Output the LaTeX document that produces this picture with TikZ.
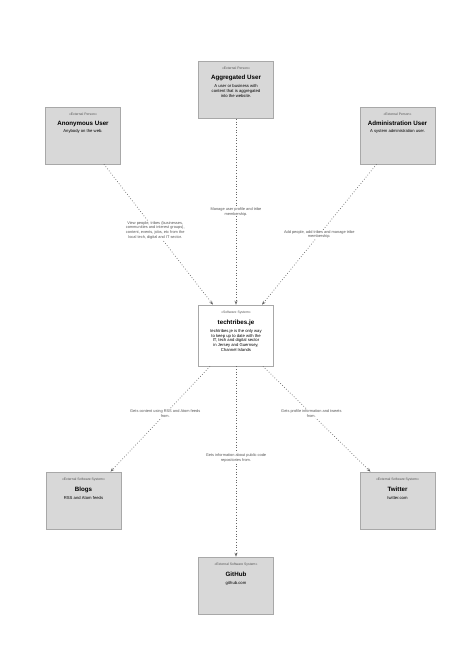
\documentclass[tikz,border=0pt]{standalone}
\usepackage{fontspec}
\setmainfont{Liberation Sans}
\usetikzlibrary{arrows.meta,positioning}
\definecolor{boxgray}{HTML}{D8D8D8}
\definecolor{edgegray}{HTML}{A8A8A8}
\definecolor{txtgray}{HTML}{555555}
\newcommand{\stereo}[1]{{\fontsize{3.4}{4.2}\selectfont\color{txtgray}<<#1>>}}
\newcommand{\boxtitle}[1]{{\fontsize{6.2}{8}\selectfont\bfseries #1}}
\tikzset{
  extbox/.style={draw=edgegray,fill=boxgray,line width=0.6pt,minimum width=75pt,minimum height=57pt,inner sep=0pt},
  sysbox/.style={extbox,fill=white,draw=edgegray},
  boxtext/.style={align=center,font=\fontsize{4.2}{4.8}\selectfont,inner sep=0pt,anchor=north},
  rel/.style={draw=txtgray!90,dotted,line width=0.7pt,-{Stealth[length=4pt,width=3pt]}},
  rellabel/.style={align=center,font=\fontsize{3.9}{4.8}\selectfont,text=txtgray,fill=white,inner sep=0.5pt}
}
\begin{document}
\begin{tikzpicture}[x=1pt,y=-1pt]
\useasboundingbox[fill=white] (0,0) rectangle (474,669);
% people
\node[extbox] (agg) at (236,90) {};
\node[boxtext] (aggtxt) at ([yshift=-6pt]agg.north) {\stereo{External Person}\\[5pt]\boxtitle{Aggregated User}\\[3pt]A user or business with\\content that is aggregated\\into the website.};
\node[extbox] (anon) at (83,135.5) {};
\node[boxtext] (anontxt) at ([yshift=-6pt]anon.north) {\stereo{External Person}\\[5pt]\boxtitle{Anonymous User}\\[3pt]Anybody on the web.};
\node[extbox] (admin) at (397.5,135.5) {};
\node[boxtext] (admintxt) at ([yshift=-6pt]admin.north) {\stereo{External Person}\\[5pt]\boxtitle{Administration User}\\[3pt]A system administration user.};
% the system
\node[sysbox,minimum height=61pt] (tt) at (236,335.5) {};
\node[boxtext] (tttxt) at ([yshift=-6pt]tt.north) {\stereo{Software System}\\[5pt]\boxtitle{techtribes.je}\\[3pt]techtribes.je is the only way\\to keep up to date with the\\IT, tech and digital sector\\in Jersey and Guernsey,\\Channel Islands};
% external systems
\node[extbox] (blogs) at (83.5,500.5) {};
\node[boxtext] (blogstxt) at ([yshift=-6pt]blogs.north) {\stereo{External Software System}\\[5pt]\boxtitle{Blogs}\\[3pt]RSS and Atom feeds};
\node[extbox] (twitter) at (397.5,500.5) {};
\node[boxtext] (twittertxt) at ([yshift=-6pt]twitter.north) {\stereo{External Software System}\\[5pt]\boxtitle{Twitter}\\[3pt]twitter.com};
\node[extbox] (github) at (236,585.5) {};
\node[boxtext] (githubtxt) at ([yshift=-6pt]github.north) {\stereo{External Software System}\\[5pt]\boxtitle{GitHub}\\[3pt]github.com};
% relationships
\draw[rel] ([xshift=21pt]anon.south) -- node[rellabel,pos=0.47] (l1) {View people, tribes (businesses,\\communities and interest groups),\\content, events, jobs, etc from the\\local tech, digital and IT sector.} ([xshift=-23pt]tt.north);
\draw[rel] (agg.south) -- node[rellabel,pos=0.5] (l2) {Manage user profile and tribe\\membership.} (tt.north);
\draw[rel] ([xshift=-21pt]admin.south) -- node[rellabel,pos=0.5] (l3) {Add people, add tribes and manage tribe\\membership.} ([xshift=26pt]tt.north);
\draw[rel] ([xshift=-26pt]tt.south) -- node[rellabel,pos=0.45] (l4) {Gets content using RSS and Atom feeds\\from.} ([xshift=27pt]blogs.north);
\draw[rel] (tt.south) -- node[rellabel,pos=0.48] (l5) {Gets information about public code\\repositories from.} (github.north);
\draw[rel] ([xshift=27pt]tt.south) -- node[rellabel,pos=0.45] (l6) {Gets profile information and tweets\\from.} ([xshift=-27pt]twitter.north);
\end{tikzpicture}
\end{document}
